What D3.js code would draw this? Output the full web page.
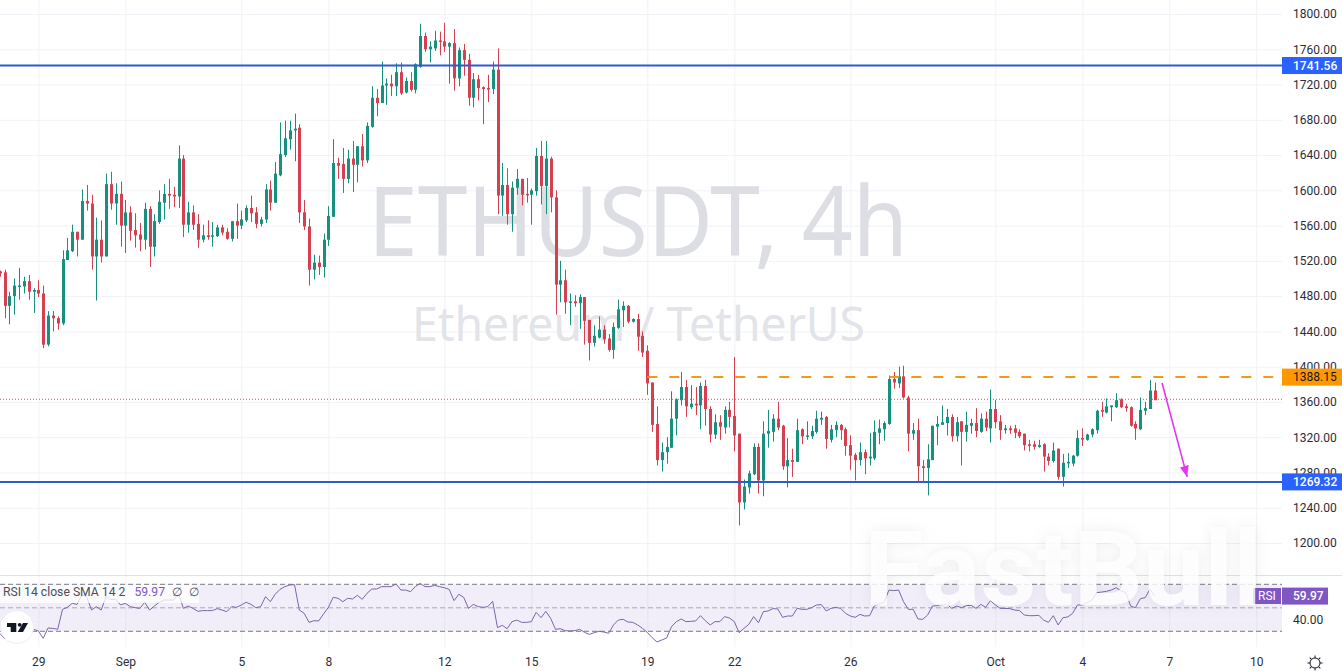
<!DOCTYPE html>
<html>
<head>
	<meta charset="utf-8">
	<script src="https://cdn.jsdelivr.net/npm/d3@7"></script>
	<style>
		html, body { margin: 0; padding: 0; background: #fff; overflow: hidden; }
		svg { display: block; font-family: Roboto, sans-serif; }
	</style>
</head>
<body>
	<script>
		/* ETHUSDT 4h candles, first candle is index 0, Aug 29 00:00 is index 8 */
		var candleOpen = [
			1508,1507,1469,1480,1491,1491,1497,1485,1487,1483,
			1425,1458,1455,1449,1521,1531,1553,1544,1588,1585,
			1525,1544,1525,1607,1585,1596,1560,1575,1555,1550,
			1544,1579,1536,1564,1586,1596,1595,1593,1636,1561,
			1575,1562,1544,1549,1548,1548,1558,1553,1545,1565,
			1560,1566,1580,1575,1562,1567,1601,1586,1617,1640,
			1658,1668,1671,1575,1559,1510,1518,1513,1544,1570,
			1631,1630,1613,1636,1629,1650,1634,1672,1705,1699,
			1719,1721,1718,1734,1711,1724,1714,1740,1775,1760,
			1761,1770,1769,1763,1767,1727,1759,1748,1705,1726,
			1717,1716,1715,1737,1594,1606,1573,1603,1613,1596,
			1595,1599,1639,1605,1636,1592,1493,1498,1473,1474,
			1472,1479,1453,1427,1433,1442,1432,1419,1444,1464,
			1469,1451,1454,1435,1418,1382,1335,1294,1303,1308,
			1341,1362,1377,1354,1358,1356,1378,1352,1323,1337,
			1331,1351,1344,1324,1246,1263,1278,1309,1271,1324,
			1326,1341,1333,1287,1294,1292,1329,1321,1321,1326,
			1340,1343,1317,1328,1334,1329,1311,1300,1294,1303,
			1296,1296,1325,1329,1335,1386,1381,1389,1365,1324,
			1328,1287,1285,1294,1332,1334,1336,1343,1321,1338,
			1326,1333,1336,1326,1341,1330,1352,1338,1328,1330,
			1330,1326,1324,1312,1312,1309,1312,1298,1293,1307,
			1275,1291,1290,1299,1319,1317,1323,1328,1351,1348,
			1354,1354,1363,1355,1354,1335,1329,1350,1352,1373
		];
		var candleClose = [
			1506,1469,1480,1492,1492,1497,1485,1487,1483,1425,
			1458,1455,1449,1522,1532,1553,1544,1588,1585,1525,
			1544,1525,1607,1585,1596,1560,1575,1554,1549,1544,
			1579,1536,1565,1587,1596,1594,1593,1636,1561,1575,
			1561,1544,1549,1547,1549,1558,1552,1545,1565,1560,
			1567,1580,1574,1562,1567,1601,1586,1619,1641,1659,
			1668,1670,1575,1559,1510,1518,1513,1544,1571,1631,
			1628,1613,1636,1629,1650,1634,1673,1705,1699,1719,
			1721,1718,1734,1710,1724,1714,1743,1775,1760,1763,
			1770,1769,1763,1767,1727,1759,1748,1705,1726,1716,
			1715,1715,1737,1594,1606,1573,1603,1613,1595,1595,
			1600,1639,1605,1636,1592,1493,1498,1473,1474,1472,
			1479,1452,1427,1435,1442,1431,1419,1445,1465,1469,
			1451,1454,1434,1416,1381,1334,1294,1303,1309,1341,
			1363,1377,1355,1358,1356,1378,1352,1323,1337,1332,
			1351,1343,1322,1246,1264,1279,1309,1271,1324,1327,
			1341,1331,1287,1294,1292,1328,1321,1322,1327,1341,
			1342,1318,1329,1334,1328,1310,1299,1294,1303,1296,
			1298,1326,1330,1336,1386,1382,1389,1365,1324,1328,
			1287,1285,1295,1333,1335,1337,1343,1321,1337,1326,
			1334,1336,1327,1341,1331,1352,1337,1328,1330,1328,
			1325,1321,1311,1311,1309,1311,1298,1293,1305,1275,
			1291,1292,1299,1319,1318,1323,1329,1350,1349,1355,
			1356,1362,1354,1353,1333,1330,1351,1353,1373,1362
		];
		var candleHigh = [
			1509,1510,1485,1500,1512,1502,1504,1489,1498,1492,
			1463,1463,1457,1532,1546,1561,1553,1601,1606,1595,
			1569,1566,1619,1621,1608,1610,1589,1582,1574,1563,
			1586,1582,1573,1600,1607,1613,1604,1651,1640,1587,
			1583,1573,1561,1566,1564,1561,1561,1557,1565,1585,
			1577,1583,1594,1581,1570,1607,1611,1632,1677,1679,
			1679,1687,1675,1589,1568,1527,1526,1551,1582,1658,
			1637,1648,1646,1656,1650,1664,1677,1718,1715,1746,
			1727,1731,1744,1745,1728,1734,1744,1789,1779,1769,
			1781,1780,1790,1768,1783,1762,1766,1755,1733,1731,
			1718,1731,1746,1761,1631,1625,1610,1624,1613,1614,
			1602,1648,1656,1656,1638,1600,1520,1510,1483,1481,
			1482,1479,1453,1447,1457,1447,1437,1450,1476,1474,
			1470,1455,1460,1440,1424,1382,1355,1314,1320,1372,
			1364,1394,1385,1379,1377,1382,1385,1355,1346,1345,
			1355,1360,1411,1324,1272,1282,1313,1313,1338,1351,
			1346,1360,1334,1319,1307,1341,1330,1338,1333,1350,
			1349,1344,1334,1338,1335,1331,1322,1302,1314,1306,
			1325,1339,1340,1338,1390,1394,1400,1401,1367,1336,
			1341,1294,1312,1333,1344,1356,1352,1346,1343,1338,
			1349,1341,1353,1347,1349,1374,1362,1345,1334,1333,
			1334,1329,1324,1317,1316,1317,1313,1302,1314,1307,
			1301,1302,1300,1328,1330,1324,1330,1351,1360,1364,
			1356,1370,1364,1358,1355,1338,1365,1360,1385,1382
		];
		var candleLow = [
			1502,1455,1448,1459,1476,1483,1476,1461,1479,1421,
			1423,1440,1442,1447,1521,1530,1525,1544,1577,1510,
			1475,1518,1525,1578,1561,1536,1529,1543,1535,1531,
			1533,1513,1525,1562,1567,1579,1581,1580,1547,1552,
			1555,1535,1541,1544,1536,1547,1549,1544,1542,1545,
			1556,1564,1564,1557,1559,1563,1577,1586,1616,1638,
			1646,1633,1563,1555,1492,1499,1504,1501,1537,1570,
			1613,1597,1608,1598,1609,1627,1631,1671,1684,1699,
			1697,1707,1707,1708,1710,1712,1710,1739,1757,1745,
			1758,1753,1757,1721,1713,1718,1730,1696,1694,1702,
			1675,1700,1709,1573,1571,1561,1553,1595,1583,1586,
			1561,1594,1584,1573,1575,1459,1473,1460,1447,1468,
			1443,1425,1407,1423,1432,1426,1417,1409,1443,1445,
			1449,1450,1418,1411,1368,1326,1288,1281,1290,1308,
			1322,1356,1343,1352,1345,1329,1333,1314,1318,1317,
			1324,1331,1304,1220,1238,1256,1277,1256,1253,1308,
			1315,1328,1283,1263,1275,1292,1312,1317,1318,1324,
			1334,1307,1314,1320,1317,1299,1283,1271,1288,1278,
			1288,1294,1312,1316,1334,1375,1376,1364,1304,1317,
			1269,1268,1254,1294,1311,1334,1322,1315,1315,1288,
			1315,1324,1320,1325,1327,1314,1330,1317,1324,1324,
			1319,1319,1305,1304,1306,1308,1281,1288,1291,1272,
			1264,1285,1287,1298,1310,1316,1320,1324,1343,1347,
			1338,1353,1353,1349,1332,1317,1328,1345,1352,1362
		];
		var rsiValues = [
			28.3,24.0,28.3,31.7,32.5,33.9,33.4,31.7,30.3,24.0,
			32.8,32.5,31.7,48.7,50.4,53.8,52.9,60.9,59.5,48.1,
			51.0,48.1,59.5,57.2,57.2,52.4,53.8,51.0,50.1,49.5,
			54.7,48.1,51.5,54.7,56.6,56.6,56.6,62.3,49.5,51.5,
			49.5,47.0,47.6,47.6,47.6,49.3,48.1,46.7,51.0,50.4,
			52.4,54.7,52.9,50.1,51.0,59.5,55.2,61.5,65.7,68.0,
			69.4,69.7,48.1,45.3,37.6,39.0,38.8,44.7,50.4,58.9,
			58.1,55.2,58.1,57.5,60.6,57.2,62.3,66.0,66.0,68.0,
			68.0,68.0,70.3,65.1,65.1,63.7,68.0,70.8,68.0,68.0,
			69.1,68.0,67.1,65.7,56.1,61.5,58.9,49.5,52.9,51.0,
			50.4,51.0,55.5,33.1,35.1,32.2,38.2,39.6,37.6,37.6,
			38.2,46.1,41.6,47.0,41.0,31.7,32.2,30.5,30.3,30.5,
			31.7,29.1,27.4,28.8,30.0,29.4,28.3,35.4,39.6,40.2,
			37.9,37.6,35.4,32.5,29.1,24.6,20.9,22.6,24.3,33.9,
			38.2,40.5,38.2,38.5,38.8,43.3,39.0,35.4,38.2,38.2,
			42.5,41.3,38.2,28.8,32.5,35.9,42.5,37.3,46.7,47.3,
			49.3,49.0,41.9,43.0,43.0,49.5,48.7,48.7,50.1,52.4,
			52.7,47.3,49.5,50.4,49.5,45.3,43.0,41.9,44.4,43.0,
			43.3,51.8,53.2,54.7,65.1,64.6,65.1,55.2,48.7,48.7,
			40.5,40.2,43.9,51.5,51.8,52.4,52.9,49.5,51.5,50.1,
			51.8,52.1,49.5,52.9,50.4,56.1,52.4,49.5,49.5,49.3,
			48.1,47.6,43.9,43.3,43.3,43.6,39.6,37.6,43.3,35.4,
			41.6,42.2,45.3,52.4,52.4,54.4,56.6,62.9,63.4,64.0,
			65.1,67.1,64.3,62.9,51.5,50.1,57.8,58.6,65.7,59.97
		];

		var priceTicks = [1800,1760,1720,1680,1640,1600,1560,1520,1480,1440,1400,1360,1320,1280,1240,1200];
		var timeTickIndex = [8,26,50,68,92,110,134,152,176,206,224,242,260];
		var timeTickLabels = ["29","Sep","5","8","12","15","19","22","26","Oct","4","7","10"];
		var rsiLevels = [70,50,30];

		var resistance = 1741.56;
		var support = 1269.32;
		var target = 1388.15;
		var lastPrice = 1363;
		var rsiLast = 59.97;
		var arrowIndex = [240.5,245.7];
		var arrowPrice = [1381.5,1275];

		var width = 1342;
		var height = 671;
		var plotRight = 1282;
		var paneBottom = 575;
		var rsiBottom = 647;

		var green = "#17917e";
		var red = "#d63f4f";
		var blue = "#2f5bd0";
		var purple = "#7e57c2";
		var grid = "#f0f2f7";
		var textColor = "#2a2e39";

		var x = d3.scaleLinear().domain([0,239]).range([-0.3,1154.8]);
		var y = d3.scaleLinear().domain([1800,1200]).range([14,543]);
		var yRsi = d3.scaleLinear().domain([70,30]).range([584.3,631.3]);

		var svg = d3.select("body").append("svg")
			.attr("width", width)
			.attr("height", height)
			.style("background-color", "white");

		/* grid */
		svg.append("g")
			.attr("class", "price-grid")
			.call(d3.axisRight(y).tickValues(priceTicks).tickSize(plotRight).tickFormat(""))
			.call(function(g) { g.select(".domain").remove(); })
			.selectAll("line").attr("stroke", grid);

		svg.append("g")
			.attr("class", "time-grid")
			.call(d3.axisBottom(x).tickValues(timeTickIndex).tickSize(rsiBottom).tickFormat(""))
			.call(function(g) { g.select(".domain").remove(); })
			.selectAll("line").attr("stroke", grid);

		/* watermark behind the candles */
		svg.append("text")
			.text("ETHUSDT, 4h")
			.attr("x", 368)
			.attr("y", 256)
			.attr("textLength", 540)
			.attr("lengthAdjust", "spacingAndGlyphs")
			.style("font-family", "'Noto Sans', sans-serif")
			.style("font-size", "96px")
			.style("fill", "#dcdee3");

		svg.append("text")
			.text("Ethereum / TetherUS")
			.attr("x", 412)
			.attr("y", 341)
			.attr("textLength", 453)
			.attr("lengthAdjust", "spacingAndGlyphs")
			.style("font-family", "'Noto Sans', sans-serif")
			.style("font-size", "48px")
			.style("fill", "#e2e4e8");

		/* price lines */
		svg.append("line")
			.attr("x1", 0).attr("x2", plotRight)
			.attr("y1", y(lastPrice)).attr("y2", y(lastPrice))
			.attr("stroke", "#d9505c")
			.attr("stroke-dasharray", "1,2");

		/* candles */
		var candles = svg.append("g").selectAll("g")
			.data(candleOpen)
			.enter().append("g")
			.attr("fill", function(d, i) { return candleClose[i] >= d ? green : red; })
			.attr("stroke", function(d, i) { return candleClose[i] >= d ? green : red; });

		candles.append("line")
			.attr("x1", function(d, i) { return Math.round(x(i)) + 0.5; })
			.attr("x2", function(d, i) { return Math.round(x(i)) + 0.5; })
			.attr("y1", function(d, i) { return y(candleHigh[i]); })
			.attr("y2", function(d, i) { return y(candleLow[i]); });

		candles.append("rect")
			.attr("x", function(d, i) { return Math.round(x(i)) - 1; })
			.attr("width", 3)
			.attr("y", function(d, i) { return y(Math.max(d, candleClose[i])); })
			.attr("height", function(d, i) { return Math.max(1.5, Math.abs(y(d) - y(candleClose[i]))); })
			.attr("stroke", "none");

		/* drawn levels */
		svg.append("line")
			.attr("x1", 0).attr("x2", plotRight)
			.attr("y1", y(resistance)).attr("y2", y(resistance))
			.attr("stroke", blue).attr("stroke-width", 2);

		svg.append("line")
			.attr("x1", 0).attr("x2", plotRight)
			.attr("y1", y(support)).attr("y2", y(support))
			.attr("stroke", blue).attr("stroke-width", 2);

		svg.append("line")
			.attr("x1", x(134)).attr("x2", plotRight)
			.attr("y1", y(target)).attr("y2", y(target))
			.attr("stroke", "#f09a1a").attr("stroke-width", 2)
			.attr("stroke-dasharray", "10,12");

		/* magenta arrow */
		var arrowColor = "#e635f0";
		var ax1 = x(arrowIndex[0]), ay1 = y(arrowPrice[0]);
		var ax2 = x(arrowIndex[1]), ay2 = y(arrowPrice[1]);
		var angle = Math.atan2(ay2 - ay1, ax2 - ax1);
		svg.append("line")
			.attr("x1", ax1).attr("y1", ay1)
			.attr("x2", ax2).attr("y2", ay2)
			.attr("stroke", arrowColor).attr("stroke-width", 1.6);
		svg.append("path")
			.attr("d", d3.line()([
				[ax2, ay2],
				[ax2 - 11 * Math.cos(angle) - 4.5 * Math.sin(angle), ay2 - 11 * Math.sin(angle) + 4.5 * Math.cos(angle)],
				[ax2 - 11 * Math.cos(angle) + 4.5 * Math.sin(angle), ay2 - 11 * Math.sin(angle) - 4.5 * Math.cos(angle)]
			]) + "Z")
			.attr("fill", arrowColor);

		/* pane separator */
		svg.append("line")
			.attr("x1", 0).attr("x2", width)
			.attr("y1", paneBottom + 0.5).attr("y2", paneBottom + 0.5)
			.attr("stroke", "#dfe1e6");

		/* RSI pane */
		svg.append("rect")
			.attr("x", 0).attr("width", plotRight)
			.attr("y", yRsi(70)).attr("height", yRsi(30) - yRsi(70))
			.attr("fill", purple).attr("fill-opacity", 0.1);

		svg.append("line")
			.attr("x1", 0).attr("x2", plotRight)
			.attr("y1", yRsi(40)).attr("y2", yRsi(40))
			.attr("stroke", grid);

		svg.append("g").selectAll("line")
			.data(rsiLevels)
			.enter().append("line")
			.attr("x1", 0).attr("x2", plotRight)
			.attr("y1", function(d) { return yRsi(d); })
			.attr("y2", function(d) { return yRsi(d); })
			.attr("stroke", "#787b86")
			.attr("stroke-opacity", function(d) { return d == 50 ? 0.6 : 1; })
			.attr("stroke-dasharray", "5,3");

		svg.append("path")
			.datum(rsiValues)
			.attr("fill", "none")
			.attr("stroke", "#7a66a8")
			.attr("stroke-width", 1)
			.attr("d", d3.line()
				.x(function(d, i) { return x(i); })
				.y(function(d) { return yRsi(d); }));

		/* RSI legend */
		svg.append("rect")
			.attr("x", 0).attr("y", 585)
			.attr("width", 199).attr("height", 18)
			.attr("fill", "white").attr("fill-opacity", 0.75);

		var legend = svg.append("text")
			.attr("x", 3)
			.attr("y", 596)
			.style("font-size", "12.2px")
			.style("fill", "#4a4e59");
		legend.append("tspan").text("RSI 14 close SMA 14 2");
		legend.append("tspan").attr("dx", 9).text(rsiLast.toFixed(2)).style("fill", purple);
		legend.append("tspan").attr("dx", 7).text("∅");
		legend.append("tspan").attr("dx", 7).text("∅");

		/* TradingView badge */
		var badge = svg.append("g").attr("transform", "translate(17,627)");
		badge.append("circle").attr("r", 16.5).attr("fill", "white").attr("stroke", "#eceef2");
		badge.append("path")
			.attr("d", "M-10,-4H-0.7V5H-6.3V0H-10Z M6,-4H11L6,5H0.7Z")
			.attr("fill", "#131722");
		badge.append("circle").attr("cx", 2.7).attr("cy", -2.2).attr("r", 1.9).attr("fill", "#131722");

		/* axes */
		svg.append("g")
			.attr("class", "price-axis")
			.attr("transform", "translate(" + plotRight + ",0)")
			.call(d3.axisRight(y).tickValues(priceTicks).tickSize(0).tickPadding(11).tickFormat(d3.format(".2f")))
			.call(function(g) { g.select(".domain").remove(); })
			.selectAll("text")
			.style("font-family", "Roboto, sans-serif")
			.style("font-size", "12px")
			.style("fill", textColor);

		svg.append("g")
			.attr("class", "rsi-axis")
			.attr("transform", "translate(" + plotRight + ",0)")
			.call(d3.axisRight(yRsi).tickValues([40]).tickSize(0).tickPadding(11).tickFormat(d3.format(".2f")))
			.call(function(g) { g.select(".domain").remove(); })
			.selectAll("text")
			.style("font-family", "Roboto, sans-serif")
			.style("font-size", "12px")
			.style("fill", textColor);

		svg.append("g")
			.attr("class", "time-axis")
			.attr("transform", "translate(0,654)")
			.call(d3.axisBottom(x).tickValues(timeTickIndex).tickSize(0).tickPadding(3)
				.tickFormat(function(d, i) { return timeTickLabels[i]; }))
			.call(function(g) { g.select(".domain").remove(); })
			.selectAll("text")
			.style("font-family", "Roboto, sans-serif")
			.style("font-size", "12px")
			.style("fill", textColor);

		/* price labels on the axis */
		function priceLabel(value, yPos, fill, textFill, labelWidth) {
			svg.append("rect")
				.attr("x", plotRight).attr("y", yPos - 8.5)
				.attr("width", labelWidth).attr("height", 17)
				.attr("fill", fill);
			svg.append("text")
				.text(value.toFixed(2))
				.attr("x", plotRight + 11)
				.attr("y", yPos + 4)
				.style("font-size", "12px")
				.style("font-weight", textFill == "white" ? 500 : 400)
				.style("fill", textFill);
		}
		priceLabel(resistance, y(resistance), "#2962ff", "white", 60);
		priceLabel(target, y(target), "#ff9800", "#131722", 60);
		priceLabel(support, y(support), "#2962ff", "white", 60);

		/* RSI labels */
		svg.append("rect")
			.attr("x", 1253).attr("y", 588)
			.attr("width", 28).attr("height", 16)
			.attr("fill", purple);
		svg.append("text")
			.text("RSI")
			.attr("x", 1267).attr("y", 600)
			.attr("text-anchor", "middle")
			.style("font-size", "12px")
			.style("fill", "white");
		priceLabel(rsiLast, yRsi(rsiLast), purple, "white", 46);

		/* FastBull logo over the picture */
		svg.append("text")
			.text("FastBull")
			.attr("x", 864)
			.attr("y", 605)
			.attr("textLength", 398)
			.attr("lengthAdjust", "spacingAndGlyphs")
			.style("font-size", "104px")
			.style("font-weight", 700)
			.style("fill", "white")
			.style("fill-opacity", 0.82)
			.style("filter", "drop-shadow(0 0 7px rgba(90,90,100,0.13))");

		/* settings icon */
		var sun = svg.append("g")
			.attr("transform", "translate(1315,663)")
			.attr("fill", "none")
			.attr("stroke", "#131722");
		sun.append("circle").attr("r", 5);
		sun.selectAll("line")
			.data(d3.range(8))
			.enter().append("line")
			.attr("y1", -5).attr("y2", -7.5)
			.attr("transform", function(d) { return "rotate(" + (d * 45) + ")"; });
	</script>
</body>
</html>
